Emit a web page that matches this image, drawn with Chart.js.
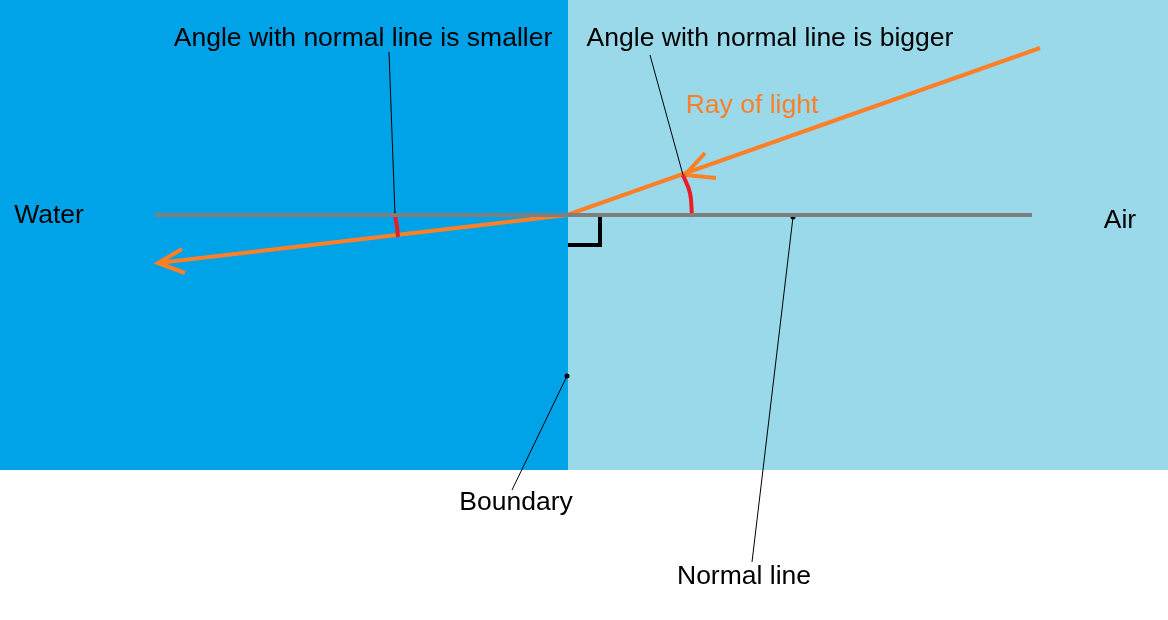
<!DOCTYPE html>
<html>
<head>
<meta charset="utf-8">
<script src="https://cdn.jsdelivr.net/npm/chart.js@4"></script>
<style>
  body { margin: 0; background: #fff; }
  #wrap { width: 1168px; height: 620px; }
</style>
</head>
<body>
<div id="wrap"><canvas id="diagram"></canvas></div>
<script>
// regions [x0, y0, x1, y1, colour]
const regions = [
  [0, 0, 568, 470, '#00a2e8'],
  [568, 0, 1168, 470, '#99d9ea'],
];
const normalLine = [{x: 155, y: 215}, {x: 1032, y: 215}];
const ray = [{x: 1040, y: 48}, {x: 567, y: 215}, {x: 158, y: 263}];
const arrowRight = [{x: 705, y: 153}, {x: 685, y: 175}, {x: 716, y: 178}];
const arrowLeft = [{x: 182, y: 249}, {x: 158, y: 263}, {x: 185, y: 273}];
const rightAngle = [{x: 568, y: 245}, {x: 600, y: 245}, {x: 600, y: 216}];
const arcBig = [{x: 683, y: 175}, {x: 690, y: 193}, {x: 692, y: 217}];
const arcSmall = [{x: 395, y: 215}, {x: 397, y: 227}, {x: 398, y: 237}];
const leaders = [
  [{x: 389, y: 52}, {x: 395, y: 215}],
  [{x: 650, y: 55}, {x: 683, y: 175}],
  [{x: 793, y: 217}, {x: 752, y: 562}],
  [{x: 567, y: 376}, {x: 512, y: 490}],
];
const dots = [{x: 395, y: 215}, {x: 683, y: 175}, {x: 793, y: 217}, {x: 567, y: 376}];
const labels = [
  ['Angle with normal line is smaller', 363, 39, '#000'],
  ['Angle with normal line is bigger', 770, 39, '#000'],
  ['Ray of light', 752, 106, '#ff7f27'],
  ['Water', 49, 216, '#000'],
  ['Air', 1120, 221, '#000'],
  ['Boundary', 516, 503, '#000'],
  ['Normal line', 744, 577, '#000'],
];

const line = (data, color, width, extra = {}) => ({
  data, borderColor: color, borderWidth: width, showLine: true,
  pointRadius: 0, fill: false, tension: 0, ...extra,
});

const datasets = [
  line(normalLine, '#7f7f7f', 4),
  line(rightAngle, '#000', 4),
  line(arcBig, '#ed1c24', 4, {tension: 0.4}),
  line(arcSmall, '#ed1c24', 4, {tension: 0.4}),
  ...leaders.map(l => line(l, '#000', 1)),
  line(ray, '#ff7f27', 4),
  line(arrowRight, '#ff7f27', 4),
  line(arrowLeft, '#ff7f27', 4),
  {data: dots, pointRadius: 2.5, pointBackgroundColor: '#000', pointBorderWidth: 0, showLine: false},
];

const decor = {
  id: 'decor',
  beforeDatasetsDraw(chart) {
    const {ctx, scales: {x, y}} = chart;
    ctx.save();
    regions.forEach(([x0, y0, x1, y1, c]) => {
      ctx.fillStyle = c;
      ctx.fillRect(x.getPixelForValue(x0), y.getPixelForValue(y0),
        x.getPixelForValue(x1) - x.getPixelForValue(x0), y.getPixelForValue(y1) - y.getPixelForValue(y0));
    });
    ctx.restore();
  },
  afterDatasetsDraw(chart) {
    const {ctx, scales: {x, y}} = chart;
    ctx.save();
    ctx.font = '26.5px "Liberation Sans", Arial, sans-serif';
    ctx.textAlign = 'center';
    ctx.textBaseline = 'middle';
    labels.forEach(([t, lx, ly, c]) => {
      ctx.fillStyle = c;
      ctx.fillText(t, x.getPixelForValue(lx), y.getPixelForValue(ly));
    });
    ctx.restore();
  },
};

new Chart(document.getElementById('diagram'), {
  type: 'scatter',
  data: {datasets},
  options: {
    responsive: true,
    maintainAspectRatio: false,
    animation: false,
    layout: {padding: 0, autoPadding: false},
    plugins: {legend: {display: false}, tooltip: {enabled: false}},
    scales: {
      x: {type: 'linear', min: 0, max: 1168, display: false},
      y: {type: 'linear', min: 0, max: 620, reverse: true, display: false},
    },
  },
  plugins: [decor],
});
</script>
</body>
</html>
